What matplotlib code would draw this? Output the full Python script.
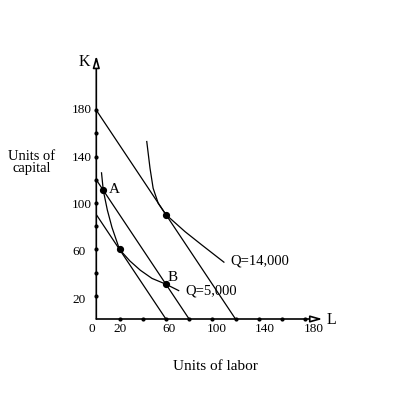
import matplotlib
matplotlib.use("Agg")
import matplotlib.pyplot as plt

plt.rcParams["font.family"] = ["Liberation Serif", "DejaVu Serif"]

# isocost lines: (K intercept, L intercept)
isocost_k0 = [180, 120, 90]
isocost_l0 = [120, 80, 60]

# isoquants
q5_L = [4.5, 6, 9.5, 13.5, 20, 29, 38, 48, 60, 71]
q5_K = [126, 111, 94, 79, 60, 50, 42, 35, 30, 24.5]
q14_L = [43.5, 46.3, 49, 53.4, 60, 76.5, 91, 110]
q14_K = [153, 130, 112.7, 99.7, 90, 75.3, 63.8, 49]

# highlighted points
pt_L = [6, 20, 60, 60]
pt_K = [111, 60, 30, 90]

axis_dots = [20, 40, 60, 80, 100, 120, 140, 160, 180]
x_ticks = [0, 20, 60, 100, 140, 180]
y_ticks = [180, 140, 100, 60, 20]

fig = plt.figure(figsize=(4, 4), dpi=100)
ax = fig.add_axes([96.3 / 400, 81 / 400, 232 / 400, 266.8 / 400])
ax.set_xlim(0, 200)
ax.set_ylim(0, 230)
ax.axis("off")

# axes with hollow arrow heads
arrow = dict(arrowstyle="-|>,head_length=0.7,head_width=0.2", fc="white",
             ec="black", lw=1.2, shrinkA=0, shrinkB=0)
ax.annotate("", xy=(195, 0), xytext=(0, 0), arrowprops=arrow)
ax.annotate("", xy=(0, 227), xytext=(0, 0), arrowprops=arrow)
ax.plot(axis_dots, [0] * len(axis_dots), "o", color="black", ms=2.0, clip_on=False)
ax.plot([0] * len(axis_dots), axis_dots, "o", color="black", ms=2.0, clip_on=False)

for k0, l0 in zip(isocost_k0, isocost_l0):
    ax.plot([0, l0], [k0, 0], color="black", lw=0.9)

ax.plot(q5_L, q5_K, color="black", lw=0.9)
ax.plot(q14_L, q14_K, color="black", lw=0.9)
ax.plot(pt_L, pt_K, "o", color="black", ms=4.2)

fs = 9.5
for v in x_ticks:
    if v == 0:
        ax.text(-0.8, -8.6, "0", ha="right", va="center", fontsize=fs)
    else:
        ax.text(v * 1.04, -8.6, str(v), ha="center", va="center", fontsize=fs)
for v in y_ticks:
    ax.text(-21, v * 1.02 - 3.6, str(v), ha="left", va="center", fontsize=fs)

ax.text(-10.6, 221.5, "K", ha="center", va="center", fontsize=11.5)
ax.text(202.5, -1, "L", ha="center", va="center", fontsize=11.5)
ax.text(-56, 135, "Units of\ncapital", ha="center", va="center",
        fontsize=10.5, linespacing=0.85)
ax.text(103, -41, "Units of labor", ha="center", va="center", fontsize=11)

ax.text(15.8, 112, "A", ha="center", va="center", fontsize=11)
ax.text(65.7, 36, "B", ha="center", va="center", fontsize=11)
ax.text(77, 24.3, "Q=5,000", ha="left", va="center", fontsize=10.5)
ax.text(116, 50.2, "Q=14,000", ha="left", va="center", fontsize=10.5)

fig.savefig("out.png", dpi=100)
